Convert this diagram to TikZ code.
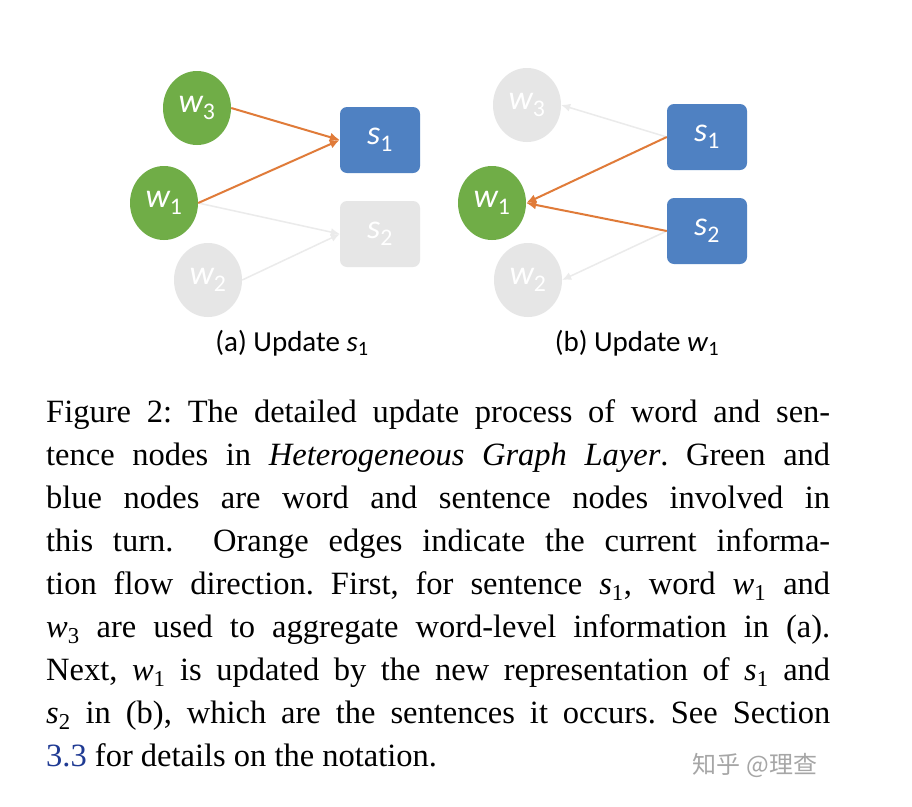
\documentclass[tikz,border=0pt]{standalone}
\usepackage{fontspec}
\setmainfont{Liberation Serif}
\newfontfamily\calfont{Carlito}
\newfontfamily\cjkfont{Noto Sans CJK SC}
\usetikzlibrary{shapes.geometric,arrows.meta}
\definecolor{gr}{HTML}{70AD47}
\definecolor{bl}{HTML}{4F81C2}
\definecolor{lg}{HTML}{E6E6E6}
\definecolor{og}{HTML}{E07B39}
\definecolor{ln}{HTML}{EBEBEB}
\definecolor{cite}{HTML}{1F3A93}
\tikzset{
 wn/.style={ellipse,minimum width=68pt,minimum height=74pt,inner sep=0pt,font=\calfont\itshape\fontsize{34}{34}\selectfont,text=white},
 sn/.style={rectangle,rounded corners=7pt,minimum width=80pt,minimum height=66pt,inner sep=0pt,font=\calfont\itshape\fontsize{34}{34}\selectfont,text=white},
 oe/.style={og,line width=2pt,-{Latex[length=10pt,width=9pt]}},
 ge/.style={ln,line width=1.5pt,-{Latex[length=9pt,width=8pt]}},
 cl/.style={anchor=base west,inner sep=0pt,font=\fontsize{32.5}{43}\selectfont},
 sub/.style={font=\calfont\fontsize{29}{29}\selectfont}
}
\newcommand\jl[1]{\makebox[784pt][s]{#1}}
\newcommand\vv[2]{\textit{#1}\textsubscript{#2}}
\frenchspacing
\begin{document}
\begin{tikzpicture}[x=1pt,y=-1pt]
\useasboundingbox (0,0) rectangle (912,806);
\fill[white] (0,0) rectangle (912,806);
% panel a
\node[wn,fill=gr] (aw3) at (197,108) {w\textsubscript{\upshape 3}};
\node[wn,fill=gr] (aw1) at (164,203) {w\textsubscript{\upshape 1}};
\node[wn,fill=lg] (aw2) at (208,280) {w\textsubscript{\upshape 2}};
\node[sn,fill=bl] (as1) at (380,140) {s\textsubscript{\upshape 1}};
\node[sn,fill=lg] (as2) at (380,234) {s\textsubscript{\upshape 2}};
\draw[ge] (aw1.east) -- (as2.west);
\draw[ge] (aw2.east) -- (as2.west);
\draw[oe] (aw3.east) -- (as1.west);
\draw[oe] (aw1.east) -- (as1.west);
% panel b
\node[wn,fill=lg] (bw3) at (527,105) {w\textsubscript{\upshape 3}};
\node[wn,fill=gr] (bw1) at (492,203) {w\textsubscript{\upshape 1}};
\node[wn,fill=lg] (bw2) at (528,280) {w\textsubscript{\upshape 2}};
\node[sn,fill=bl] (bs1) at (707,137) {s\textsubscript{\upshape 1}};
\node[sn,fill=bl] (bs2) at (707,231) {s\textsubscript{\upshape 2}};
\draw[ge] (bs1.west) -- (bw3.east);
\draw[ge] (bs2.west) -- (bw2.east);
\draw[oe] (bs1.west) -- (bw1.east);
\draw[oe] (bs2.west) -- (bw1.east);
\node[sub] (ca) at (292,343) {(a) Update \textit{s}\textsubscript{1}};
\node[sub] (cb) at (637,343) {(b) Update \textit{w}\textsubscript{1}};
% caption
\node[cl] (l1) at (46,422) {\jl{Figure 2: The detailed update process of word and sen-}};
\node[cl] (l2) at (46,465) {\jl{tence nodes in \textit{Heterogeneous Graph Layer}. Green and}};
\node[cl] (l3) at (46,508) {\jl{blue nodes are word and sentence nodes involved in}};
\node[cl] (l4) at (46,551) {\jl{this turn. \ Orange edges indicate the current informa-}};
\node[cl] (l5) at (46,594) {\jl{tion flow direction. First, for sentence \vv{s}{1}, word \vv{w}{1} and}};
\node[cl] (l6) at (46,637) {\jl{\vv{w}{3} are used to aggregate word-level information in (a).}};
\node[cl] (l7) at (46,680) {\jl{Next, \vv{w}{1} is updated by the new representation of \vv{s}{1} and}};
\node[cl] (l8) at (46,723) {\jl{\vv{s}{2} in (b), which are the sentences it occurs. See Section}};
\node[cl] (l9) at (46,766) {\textcolor{cite}{3.3} for details on the notation.};
\node[font=\cjkfont\fontsize{24}{24}\selectfont,text=black!35] (wm) at (755,765) {知乎 @理查};
\end{tikzpicture}
\end{document}
